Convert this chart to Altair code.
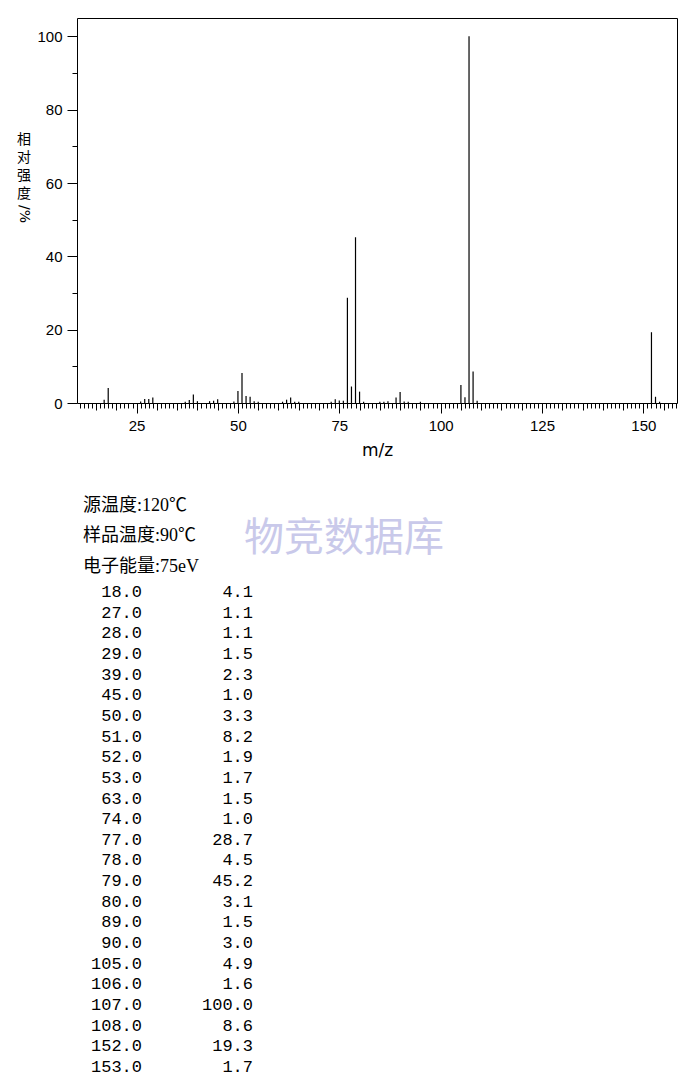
import altair as alt
import pandas as pd

# spectrum data (m/z, relative intensity %)
mz = [17, 18, 26, 27, 28, 29, 37, 38, 39, 40, 43, 44, 45, 49, 50, 51, 52, 53, 54, 55,
      61, 62, 63, 64, 65, 73, 74, 75, 76, 77, 78, 79, 80, 81, 85, 86, 87, 89, 90, 91,
      92, 95, 105, 106, 107, 108, 109, 152, 153, 154]
intensity = [0.9, 4.1, 0.4, 1.1, 1.1, 1.5, 0.35, 0.8, 2.3, 0.5, 0.5, 0.6, 1.0, 0.4, 3.3, 8.2, 1.9, 1.7, 0.5, 0.35,
             0.35, 0.9, 1.5, 0.35, 0.35, 0.35, 1.0, 0.7, 0.6, 28.7, 4.5, 45.2, 3.1, 0.35, 0.35, 0.35, 0.45, 1.5, 3.0, 0.4,
             0.35, 0.35, 4.9, 1.6, 100.0, 8.6, 0.6, 19.3, 1.7, 0.35]

header_lines = ["源温度:120℃", "样品温度:90℃", "电子能量:75eV"]
watermark = "物竞数据库"
y_title_chars = ["相", "对", "强", "度"]
y_title_tail = "/%"
x_title = "m/z"

x_minor = list(range(11, 159))
x_mid = list(range(15, 159, 5))
x_major = list(range(25, 151, 25))
y_minor = list(range(10, 100, 20))
y_major = list(range(0, 101, 20))

df = pd.DataFrame({"mz": mz, "intensity": intensity})

W, H = 600, 385
TOTAL_H = 1070

xscale = alt.Scale(domain=[10.3, 158.3], nice=False, zero=False)
yscale = alt.Scale(domain=[0, 105], nice=False)

lab_font = "Liberation Sans"

bars = alt.Chart(df).mark_rule(color="black", strokeWidth=1.2).encode(
    x=alt.X("mz:Q", scale=xscale,
            axis=alt.Axis(values=x_minor, tickSize=5, labels=False, domain=False,
                          title=None, orient="bottom", grid=False)),
    y=alt.Y("intensity:Q", scale=yscale,
            axis=alt.Axis(values=y_minor, tickSize=5, labels=False, domain=False,
                          title=None, orient="left", grid=False)),
    y2=alt.datum(0),
)

ghost1 = alt.Chart(df).mark_rule(opacity=0).encode(
    x=alt.X("mz:Q", scale=xscale,
            axis=alt.Axis(values=x_mid, tickSize=7, labels=False, domain=False,
                          title=None, orient="bottom", grid=False)),
    y=alt.Y("intensity:Q", scale=yscale,
            axis=alt.Axis(values=y_major, tickSize=10, labels=True, domain=False,
                          title=None, orient="left", grid=False, labelPadding=5,
                          labelFont=lab_font, labelFontSize=15, labelColor="black")),
)

ghost2 = alt.Chart(df).mark_rule(opacity=0).encode(
    x=alt.X("mz:Q", scale=xscale,
            axis=alt.Axis(values=x_major, tickSize=10, labels=True, domain=False,
                          title=x_title, orient="bottom", grid=False, labelPadding=5,
                          labelFont=lab_font, labelFontSize=15, labelColor="black",
                          titleFont="DejaVu Sans", titleFontSize=17, titleFontWeight="normal",
                          titleColor="black", titlePadding=9)),
    y=alt.Y("intensity:Q", scale=yscale, axis=None),
)

# vertical (stacked, upright) y title
ydf = pd.DataFrame({"c": y_title_chars, "i": list(range(len(y_title_chars)))})
ytitle = alt.Chart(ydf).mark_text(
    baseline="middle", align="center", font="Noto Sans CJK SC", fontSize=14, color="black"
).encode(
    x=alt.value(-53),
    y=alt.Y("i:Q", scale=alt.Scale(domain=[0, 3], range=[122, 176]), axis=None),
    text="c:N",
)

ytail = alt.Chart(pd.DataFrame({"t": [y_title_tail]})).mark_text(
    angle=90, baseline="middle", align="center", font="DejaVu Sans", fontSize=14, color="black"
).encode(x=alt.value(-53), y=alt.value(196), text="t:N")

# header lines
hdf = pd.DataFrame({"t": header_lines, "i": list(range(len(header_lines)))})
header = alt.Chart(hdf).mark_text(
    align="left", baseline="middle", font="Liberation Serif, Noto Sans CJK SC",
    fontSize=18, color="black"
).encode(
    x=alt.value(6),
    y=alt.Y("i:Q", scale=alt.Scale(domain=[0, 2], range=[487.5, 548.5]), axis=None),
    text="t:N",
)

wm = alt.Chart(pd.DataFrame({"t": [watermark]})).mark_text(
    align="center", baseline="middle", font="Noto Sans CJK SC", fontSize=40, color="#c9c9ea"
).encode(x=alt.value(267), y=alt.value(521), text="t:N")

tbl = alt.Chart(df).transform_filter("datum.intensity >= 1").transform_window(
    row="row_number()", sort=[alt.SortField("mz", order="ascending")]
)
row_scale = alt.Scale(domain=[1, 24], range=[574, 1049])
mz_col = tbl.mark_text(align="right", baseline="middle", font="Liberation Mono",
                       fontSize=17, color="black").encode(
    x=alt.value(65),
    y=alt.Y("row:Q", scale=row_scale, axis=None),
    text=alt.Text("mz:Q", format=".1f"),
)
int_col = tbl.mark_text(align="right", baseline="middle", font="Liberation Mono",
                        fontSize=17, color="black").encode(
    x=alt.value(176),
    y=alt.Y("row:Q", scale=row_scale, axis=None),
    text=alt.Text("intensity:Q", format=".1f"),
)

chart = alt.layer(
    bars, ghost1, ghost2, ytitle, ytail, header, wm, mz_col, int_col
).resolve_scale(y="independent").resolve_axis(x="independent", y="independent").properties(
    width=W, height=H,
    autosize=alt.AutoSizeParams(type="none"),
    padding={"left": 69, "top": 10, "right": 2, "bottom": TOTAL_H - 10 - H},
).configure_view(stroke="black", strokeWidth=1).configure_axis(
    tickColor="black", tickWidth=1
)

chart.save("out.html", embed_options={"renderer": "svg", "actions": False})
